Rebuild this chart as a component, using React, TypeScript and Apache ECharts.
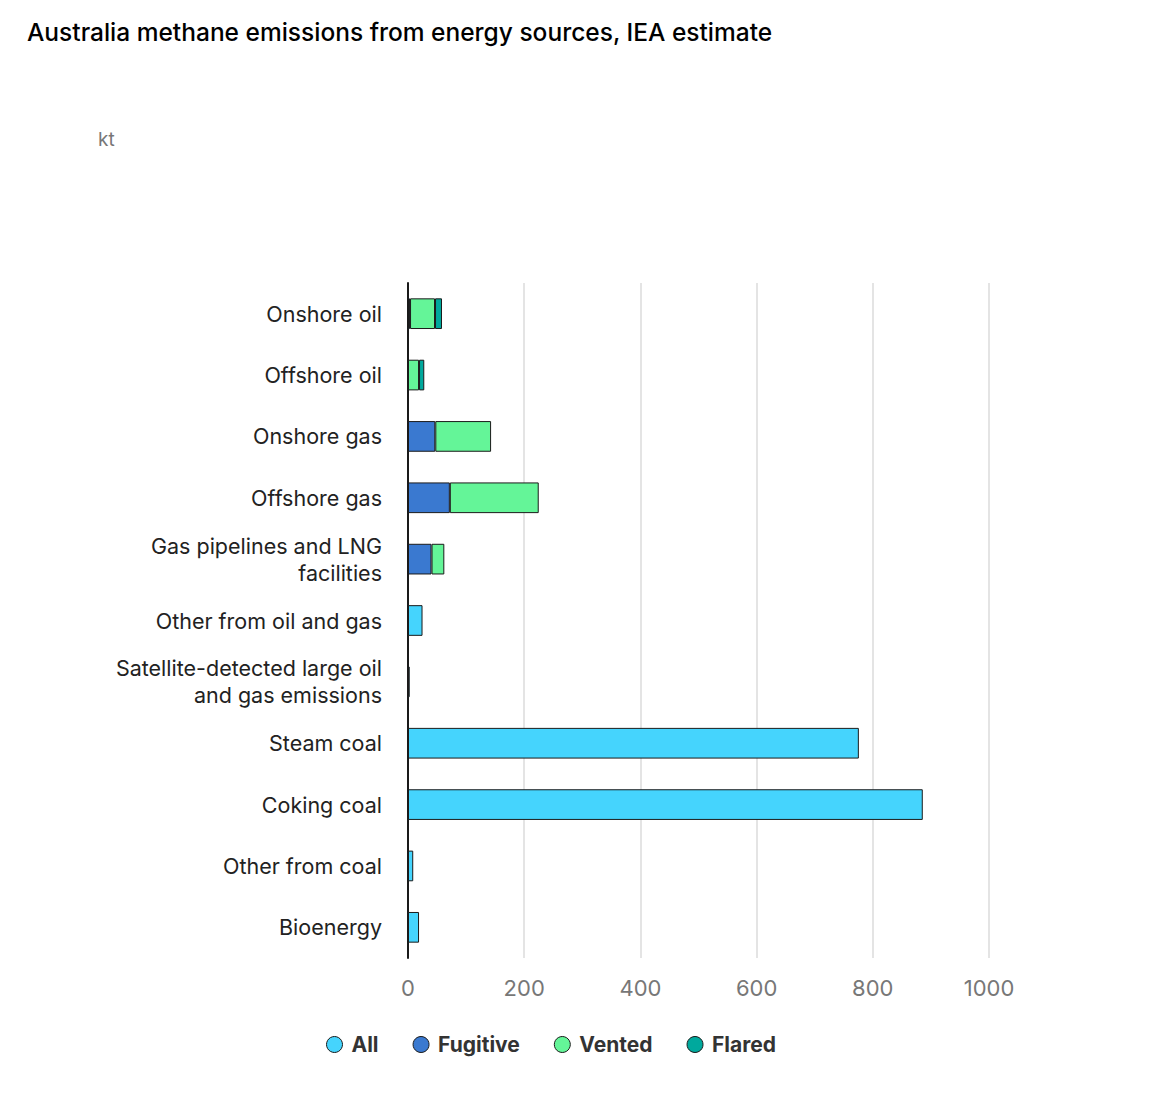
import React, { useEffect, useRef } from 'react';
import * as echarts from 'echarts';
import type { EChartsOption } from 'echarts';

const categories = [
  'Onshore oil',
  'Offshore oil',
  'Onshore gas',
  'Offshore gas',
  'Gas pipelines and LNG\nfacilities',
  'Other from oil and gas',
  'Satellite-detected large oil\nand gas emissions',
  'Steam coal',
  'Coking coal',
  'Other from coal',
  'Bioenergy',
];

// '-' = no value for that source
const allValues = ['-', '-', '-', '-', '-', 25, 3, 776, 886, 9, 19];
const fugitiveValues = [3.5, '-', 47, 72, 40.5, '-', '-', '-', '-', '-', '-'];
const ventedValues = [43, 19, 96, 153, 22, '-', '-', '-', '-', '-', '-'];
const flaredValues = [12, 9, '-', '-', '-', '-', '-', '-', '-', '-', '-'];

const seriesNames = ['All', 'Fugitive', 'Vented', 'Flared'];
const seriesColors = ['#45d4fd', '#3a79d0', '#64f598', '#00a99d'];

const FONT = 'Inter, "Noto Sans", sans-serif';

const App: React.FC = () => {
  const chartRef = useRef<HTMLDivElement>(null);

  useEffect(() => {
    if (!chartRef.current) return;
    const chart = echarts.init(chartRef.current, undefined, { renderer: 'svg' });

    const data = [allValues, fugitiveValues, ventedValues, flaredValues];

    const option: EChartsOption = {
      animation: false,
      textStyle: { fontFamily: FONT },
      title: {
        text: 'Australia methane emissions from energy sources, IEA estimate',
        left: 22,
        top: 14,
        textStyle: { fontSize: 24.5, fontWeight: 500, color: '#000', fontFamily: FONT },
      },
      graphic: [
        {
          type: 'text',
          left: 98,
          top: 130,
          style: { text: 'kt', fontSize: 19, fill: '#777', fontFamily: FONT },
        },
      ],
      legend: {
        data: seriesNames,
        left: 321,
        top: 1029,
        icon: 'circle',
        itemWidth: 16,
        itemHeight: 16,
        itemGap: 34,
        itemStyle: { borderColor: '#1a1a1a', borderWidth: 1 },
        textStyle: {
          fontSize: 21,
          fontWeight: 'bold',
          color: '#333',
          fontFamily: FONT,
          padding: [0, 0, 0, 4],
        },
      },
      grid: { left: 408, right: 169, top: 283, bottom: 156, containLabel: false },
      xAxis: {
        type: 'value',
        min: 0,
        max: 1000,
        interval: 200,
        axisLine: { show: false },
        axisTick: { show: false },
        splitLine: { lineStyle: { color: '#e4e4e4', width: 2 } },
        axisLabel: {
          color: '#777',
          fontSize: 22,
          margin: 19,
          fontFamily: FONT,
          formatter: (v: number) => String(v),
        },
      },
      yAxis: {
        type: 'category',
        data: categories,
        inverse: true,
        axisLine: { lineStyle: { color: '#1a1a1a', width: 2 } },
        axisTick: { show: false },
        axisLabel: { color: '#222', fontSize: 21.5, margin: 26, lineHeight: 27, fontFamily: FONT },
      },
      series: seriesNames.map((name, i) => ({
        name,
        type: 'bar',
        stack: 'total',
        barWidth: '50%',
        data: data[i] as any,
        itemStyle: { color: seriesColors[i], borderColor: '#1a1a1a', borderWidth: 1 },
      })),
    };

    chart.setOption(option);
    return () => chart.dispose();
  }, []);

  return (
    <div
      ref={chartRef}
      style={{ position: 'absolute', left: 0, top: 0, width: 1158, height: 1114 }}
    />
  );
};

export default App;
